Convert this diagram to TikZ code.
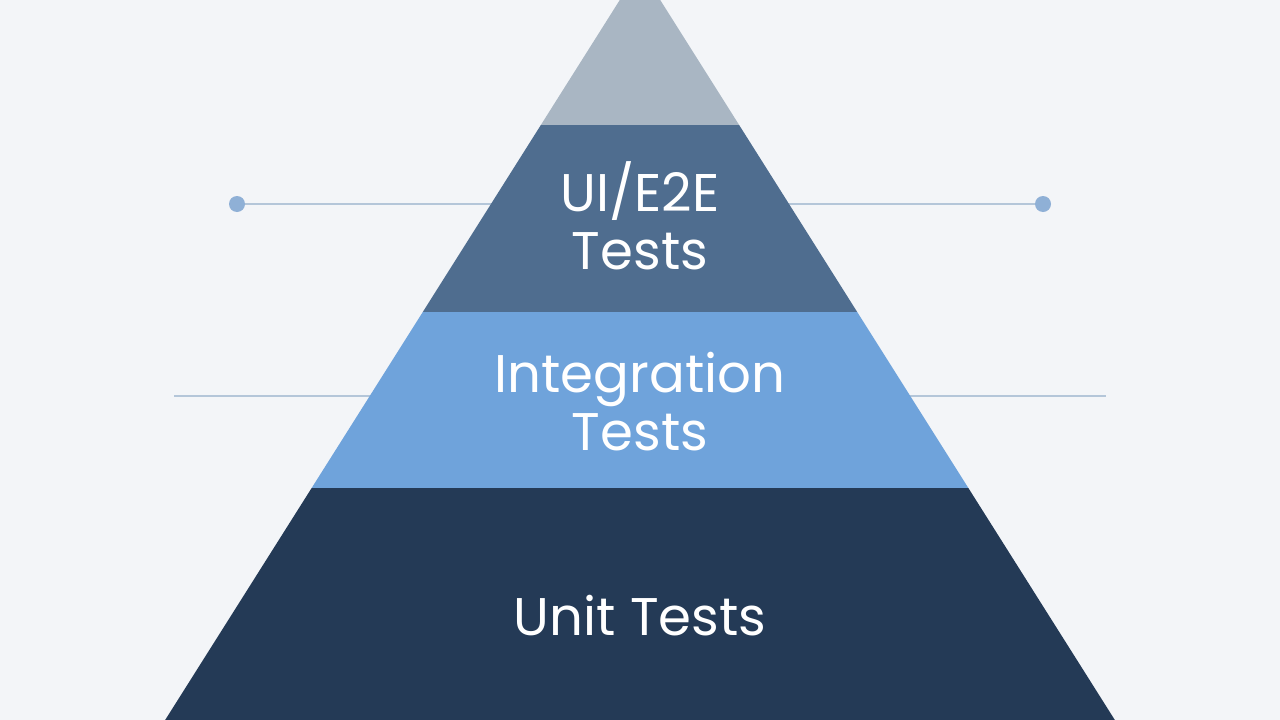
\documentclass[tikz,border=0pt]{standalone}
\usepackage{fontspec}
\setmainfont{Poppins}
\definecolor{bg}{HTML}{F3F5F8}
\definecolor{topc}{HTML}{A9B6C3}
\definecolor{uic}{HTML}{4F6D8F}
\definecolor{intc}{HTML}{6FA3DB}
\definecolor{unitc}{HTML}{243A56}
\definecolor{linec}{HTML}{B4C6D9}
\definecolor{dotc}{HTML}{8FB0D6}
\begin{document}
\begin{tikzpicture}[x=1pt,y=-1pt,
  lbl/.style={text=white,font=\fontsize{53}{58}\selectfont,align=center},
  guide/.style={draw=linec,line width=2pt}]
\fill[bg] (0,0) rectangle (1280,720);
\useasboundingbox (0,0) rectangle (1280,720);
\coordinate (l1) at (237,204); \coordinate (r1) at (1043,204);
\coordinate (l2) at (174,396); \coordinate (r2) at (1106,396);
\draw[guide] (l1) -- (r1);
\fill[dotc] (l1) circle (8) (r1) circle (8);
\draw[guide] (l2) -- (r2);
\begin{scope}
\clip (640,-32) -- (1118,725) -- (162,725) -- cycle;
\fill[topc] (0,-40) rectangle (1280,125);
\fill[uic] (0,125) rectangle (1280,312);
\fill[intc] (0,312) rectangle (1280,488);
\fill[unitc] (0,488) rectangle (1280,725);
\end{scope}
\node[lbl] (ui) at (640,216) {UI/E2E\\Tests};
\node[lbl] (int) at (640,402) {Integration\\Tests};
\node[lbl] (unit) at (640,616) {Unit Tests};
\end{tikzpicture}
\end{document}
